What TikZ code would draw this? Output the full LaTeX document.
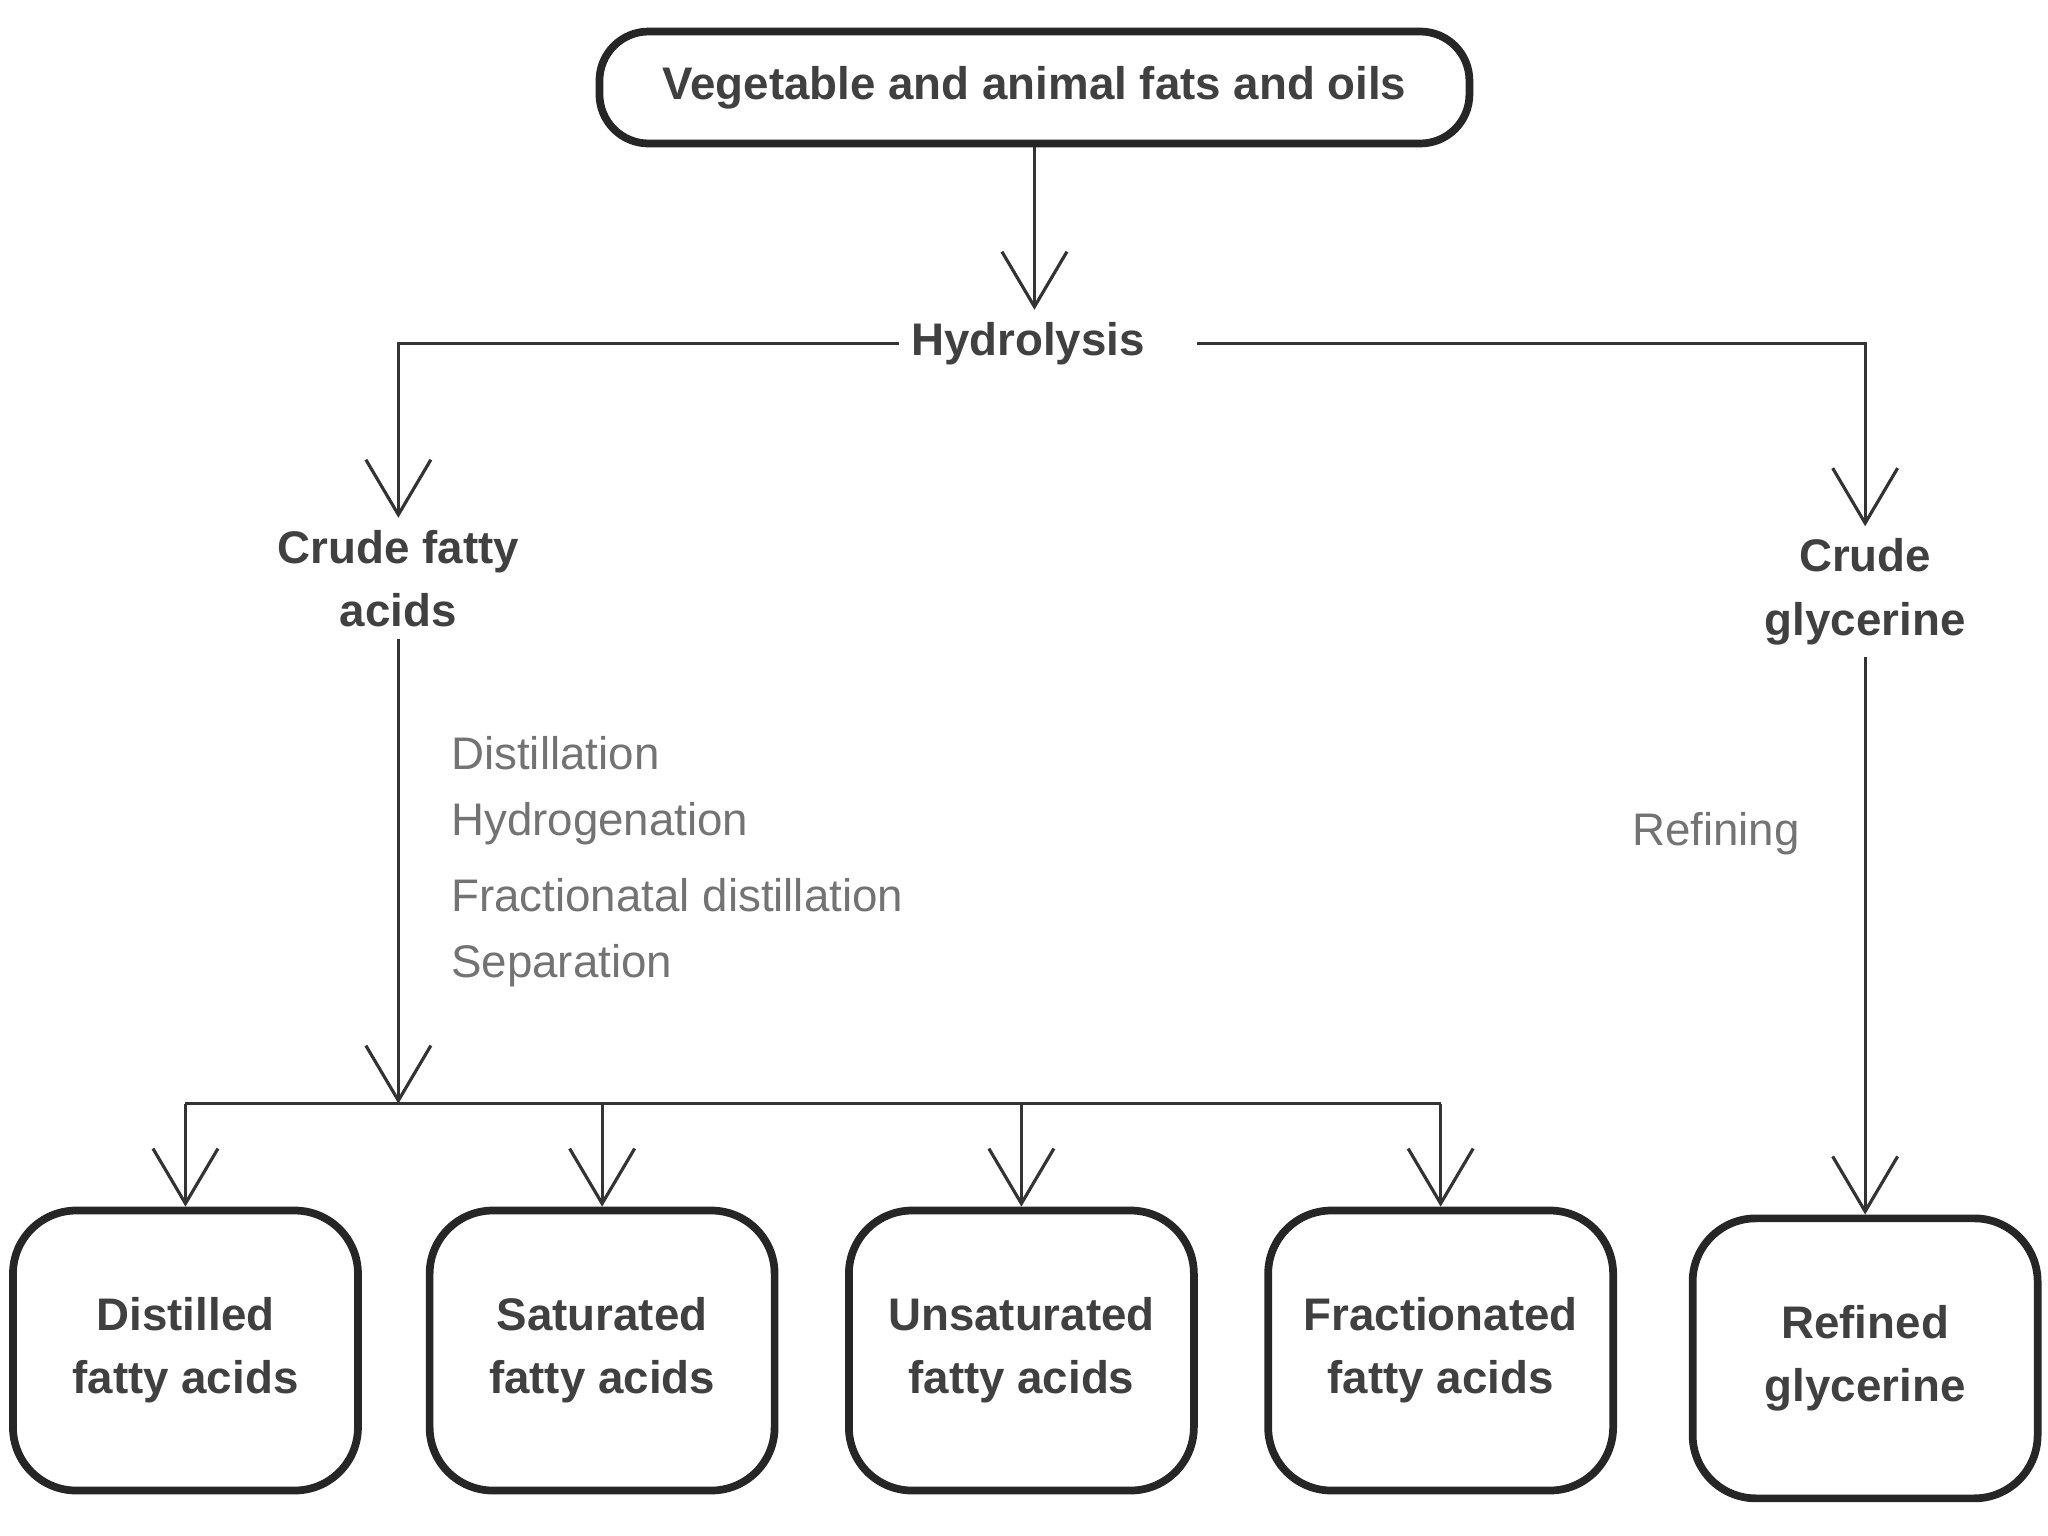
\documentclass[tikz,border=0pt]{standalone}
\usepackage{fontspec}
\setmainfont{Liberation Sans}
\usetikzlibrary{arrows.meta}
\begin{document}
\begin{tikzpicture}[x=0.01306cm, y=-0.01306cm, >={Straight Barb[length=5.5mm, width=6.5mm]},
    line/.style={line width=0.9pt, draw=black!80},
    stage/.style={font=\fontsize{13}{18}\selectfont\bfseries, text=black!75, align=center},
    process/.style={font=\fontsize{13}{18}\selectfont, text=black!55, align=left, anchor=west},
    product/.style={stage, draw=black!85, line width=2.2pt, rounded corners=18pt,
      minimum width=3.45cm, minimum height=2.8cm}]
  \useasboundingbox (0,0) rectangle (1568,1176);
  \node [stage, draw=black!85, line width=2.2pt, rounded corners=14pt,
    minimum width=8.7cm, minimum height=1.12cm] (fats) at (792,67)
    {Vegetable and animal fats and oils};
  \node [stage] (hydrolysis) at (787,263) {Hydrolysis};
  \node [stage] (crude-fa) at (305,443) {Crude fatty\\acids};
  \node [stage] (crude-gly) at (1428,453) {Crude\\glycerine};
  \foreach \m/\x/\l in {1/142/Distilled, 2/461/Saturated, 3/782/Unsaturated, 4/1103/Fractionated}
    \node [product] (fa-\m) at (\x,1034) {\l\\fatty acids};
  \node [product] (refined) at (1428,1040) {Refined\\glycerine};
  \foreach \l [count=\y] in {Distillation, Hydrogenation, Fractionatal distillation, Separation}
    \node [process] (proc-\y) at (336,523+\y*54) {\l};
  \node [process] (refining) at (1240,638) {Refining};
  \coordinate (split) at (305,845);
  \draw [line, ->] (fats) -- (hydrolysis.north -| fats);
  \draw [line, ->] (hydrolysis.west) -| (crude-fa.north);
  \draw [line, ->] ([xshift=4mm]hydrolysis.east) -| (crude-gly.north);
  \draw [line, ->] (crude-fa.south) -- (split);
  \draw [line] (split -| fa-1) -- (split -| fa-4);
  \foreach \i in {1,...,4}
    \draw [line, ->] (split -| fa-\i) -- (fa-\i.north);
  \draw [line, ->] (crude-gly.south) -- (refined.north);
\end{tikzpicture}
\end{document}
